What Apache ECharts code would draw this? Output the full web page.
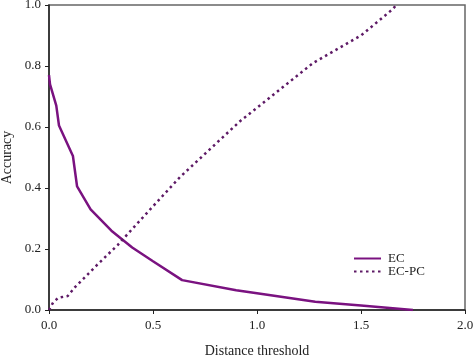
<!DOCTYPE html>
<html><head><meta charset="utf-8">
<script src="https://cdn.jsdelivr.net/npm/echarts@6/dist/echarts.min.js"></script>
<style>html,body{margin:0;padding:0;background:#fff}#c{width:474px;height:359px}</style>
</head><body><div id="c"></div>
<script>
const ecX = [0, 0.005, 0.035, 0.048, 0.115, 0.135, 0.2, 0.3, 0.4, 0.5, 0.64, 0.9, 1.0, 1.28, 1.5, 1.75];
const ecY = [0.77, 0.74, 0.67, 0.605, 0.505, 0.405, 0.33, 0.26, 0.205, 0.16, 0.098, 0.065, 0.055, 0.027, 0.015, 0.0];
const ecpcX = [0, 0.02, 0.045, 0.09, 0.125, 0.23, 0.33, 0.5, 0.63, 0.92, 1.05, 1.27, 1.5, 1.65, 1.67];
const ecpcY = [0, 0.025, 0.04, 0.046, 0.075, 0.147, 0.213, 0.34, 0.436, 0.62, 0.69, 0.81, 0.9, 0.985, 1.0];
const xTicks = [0, 0.5, 1.0, 1.5, 2.0];
const yTicks = [0, 0.2, 0.4, 0.6, 0.8, 1.0];
const seriesNames = ['EC', 'EC-PC'];

const zip = (xs, ys) => xs.map((x, i) => [x, ys[i]]);
const font = 'Liberation Serif';
const chart = echarts.init(document.getElementById('c'), null, {renderer: 'canvas'});
chart.setOption({
  animation: false,
  textStyle: {fontFamily: font},
  grid: {left: 49, right: 9, top: 5, bottom: 49, containLabel: false, outerBoundsMode: 'none',
         show: true, borderColor: '#666', borderWidth: 1.5, backgroundColor: '#fff'},
  legend: {
    orient: 'vertical', left: 353, top: 252, itemWidth: 27, itemHeight: 10, itemGap: 0,
    itemStyle: {opacity: 0}, padding: 0,
    textStyle: {fontFamily: font, fontSize: 13, color: '#222', lineHeight: 13, padding: [0, 0, 0, 2]},
    data: seriesNames
  },
  xAxis: {
    type: 'value', min: xTicks[0], max: xTicks[xTicks.length - 1], interval: 0.5,
    name: 'Distance threshold', nameLocation: 'middle', nameGap: 34,
    nameTextStyle: {fontFamily: font, fontSize: 14, color: '#222'},
    axisLine: {lineStyle: {color: '#222', width: 1.5}},
    axisTick: {show: true, inside: false, length: 4, lineStyle: {color: '#222', width: 1}},
    axisLabel: {fontFamily: font, fontSize: 13, color: '#222', margin: 9, formatter: v => v.toFixed(1)},
    splitLine: {show: false}
  },
  yAxis: {
    type: 'value', min: yTicks[0], max: yTicks[yTicks.length - 1], interval: 0.2,
    name: 'Accuracy', nameLocation: 'middle', nameGap: 32,
    nameTextStyle: {fontFamily: font, fontSize: 14, color: '#222'},
    axisLine: {show: true, lineStyle: {color: '#222', width: 1.5}},
    axisTick: {show: true, inside: false, length: 4, lineStyle: {color: '#222', width: 1}},
    axisLabel: {fontFamily: font, fontSize: 13, color: '#222', margin: 8, formatter: v => v.toFixed(1)},
    splitLine: {show: false}
  },
  series: [
    {name: seriesNames[0], type: 'line', data: zip(ecX, ecY), symbol: 'none', color: '#7a1280',
     lineStyle: {color: '#7a1280', width: 2.5}},
    {name: seriesNames[1], type: 'line', data: zip(ecpcX, ecpcY), symbol: 'none', color: '#5e1a66',
     lineStyle: {color: '#5e1a66', width: 2.5, type: [2.5, 3.5]}}
  ]
});
</script></body></html>
